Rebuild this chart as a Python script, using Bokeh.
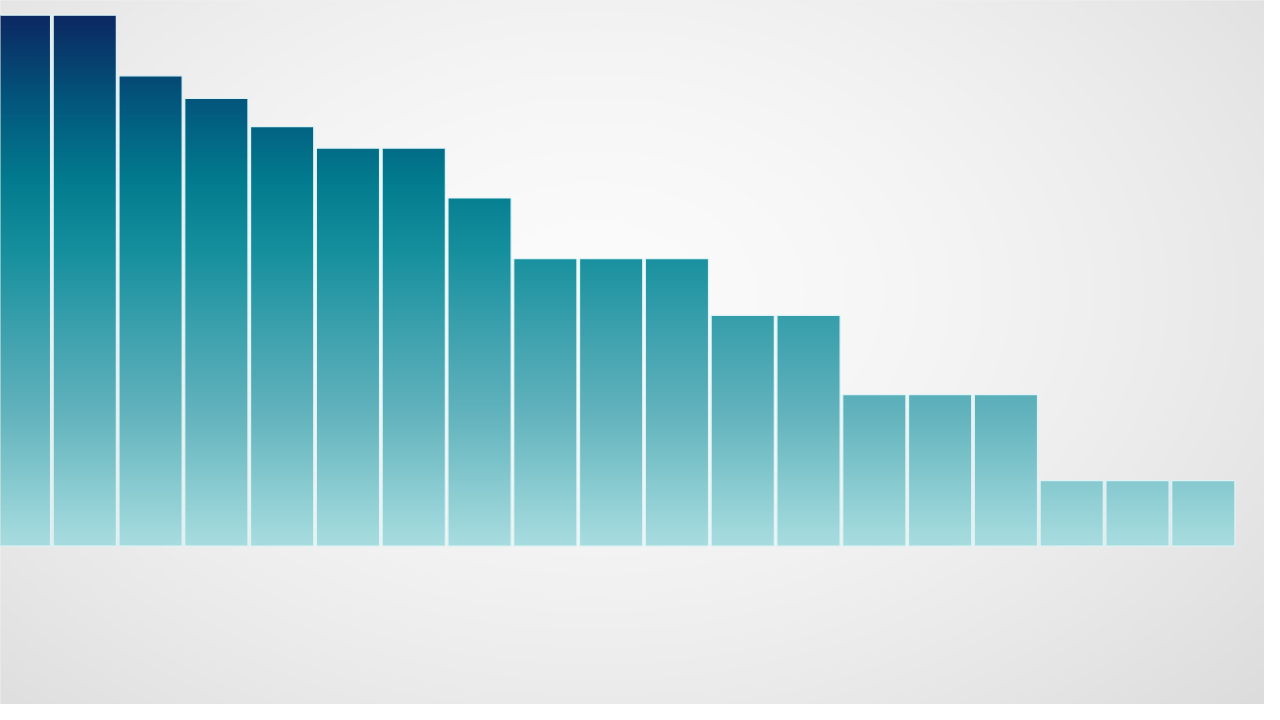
import numpy as np
from bokeh.plotting import figure
from bokeh.embed import file_html
from bokeh.resources import INLINE
from bokeh.models import Range1d

# ---- data ----
positions = list(range(19))
values = [543, 543, 481, 458, 429, 407, 407, 356, 294, 294, 294,
          236, 236, 155, 155, 155, 67, 67, 67]

# ---- style ----
grad_stops = [0.0, 0.10, 0.25, 0.40, 0.55, 0.68, 0.82, 1.0]
grad_colors = ["#a9dde0", "#8ccdd2", "#62b3bd", "#3ea2ae", "#17909e",
               "#037d8f", "#025b7f", "#0c2862"]

W, H = 1264, 704
X0, X1 = -0.2807, 18.93
Y0, Y1 = -162, 558
TOPV = max(values)


def hex2rgb(h):
    h = h.lstrip("#")
    return [int(h[i:i + 2], 16) for i in (0, 2, 4)]


stop_rgb = np.array([hex2rgb(c) for c in grad_colors], dtype=float)


def grad(f):
    f = np.clip(f, 0, 1)
    return np.stack([np.interp(f, grad_stops, stop_rgb[:, k]) for k in range(3)], axis=-1)


def to_rgba(rgb):
    a = np.zeros(rgb.shape[:-1] + (4,), dtype=np.uint8)
    a[..., :3] = np.clip(rgb, 0, 255).astype(np.uint8)
    a[..., 3] = 255
    return a.view(np.uint32).reshape(rgb.shape[:-1])


p = figure(width=W, height=H, output_backend="svg", toolbar_location=None,
           x_range=Range1d(X0, X1), y_range=Range1d(Y0, Y1),
           min_border=0, border_fill_color="#e4e4e4", background_fill_color="#e4e4e4",
           outline_line_color=None)
p.axis.visible = False
p.grid.visible = False

# background radial gradient (reference-frame coordinates 1280x720, padded)
pad = 10
bw, bh = 650, 370
yy, xx = np.mgrid[0:bh, 0:bw]
sx = xx * 2.0 - pad
sy = 720.0 + pad - yy * 2.0  # row 0 = bottom
r = np.sqrt(((sx - 600) / 820.0) ** 2 + ((sy - 300) / 560.0) ** 2)
g = 251 - 26 * np.clip(r, 0, 1.2) ** 1.6
bg = to_rgba(np.stack([g, g, g], axis=-1))
xu = (X1 - X0) / 1280.0
yu = (Y1 - Y0) / 720.0
p.image_rgba(image=[bg], x=X0 - pad * xu, y=Y0 - pad * yu,
             dw=bw * 2 * xu, dh=bh * 2 * yu)

# bars with vertical gradient
half = 0.5 - 0.02
for xi, v in zip(positions, values):
    n = int(v)
    f = (np.arange(n) + 0.5) / TOPV
    img = to_rgba(grad(f)[:, None, :])
    p.image_rgba(image=[img], x=xi - half, y=0, dw=2 * half, dh=v)

p.quad(left=[x - half for x in positions], right=[x + half for x in positions],
       bottom=[0] * len(values), top=values, fill_color=None,
       line_color="#dcf3f6", line_width=1.2)

open("out.html", "w").write(file_html(p, INLINE))
